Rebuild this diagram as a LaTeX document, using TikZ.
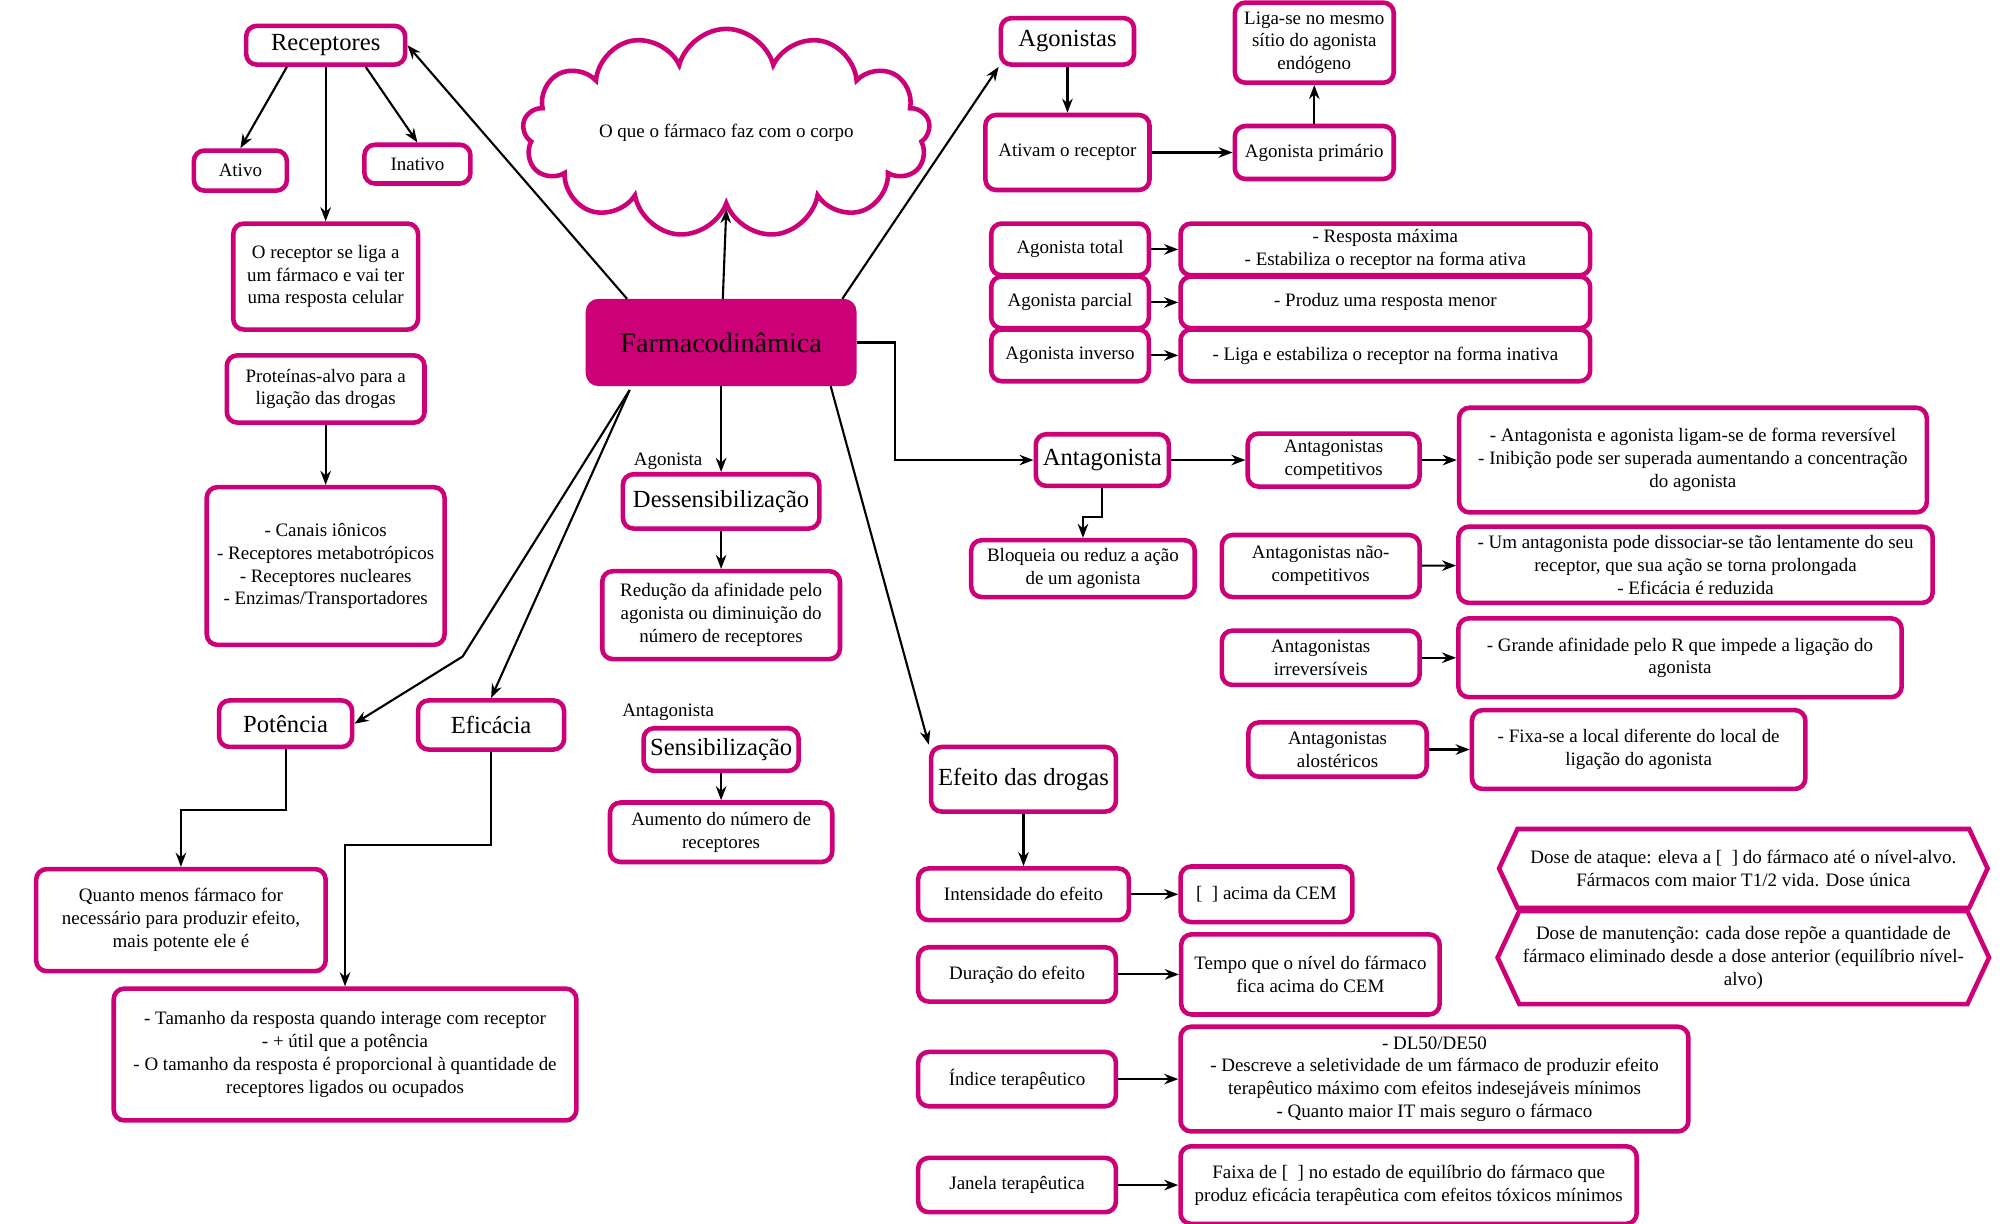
\documentclass[tikz,border=0pt]{standalone}
\usepackage{fontspec}
\setmainfont{Liberation Serif}
\usetikzlibrary{arrows.meta,shapes.symbols}
\definecolor{mag}{HTML}{CC0077}
\def\pu{0.012923cm}
\newcommand{\bx}[7][]{\node[box,#1,minimum width=#5*\pu,minimum height=#6*\pu] (#2) at (#3,#4) {#7};}

\begin{document}
\begin{tikzpicture}[x=\pu,y=-\pu,
font=\fontsize{5.4}{6.5}\selectfont,
box/.style={rectangle,rounded corners=3pt,draw=mag,line width=1.3pt,fill=white,align=center,inner sep=1pt},
big/.style={font=\fontsize{7}{8}\selectfont},
hexa/.style={signal,signal to=east and west,signal pointer angle=130,draw=mag,line width=1.3pt,fill=white,align=center,inner sep=1pt},
arrow/.style={-{Stealth[length=4pt,width=3pt]},semithick}
]
\useasboundingbox (0,0) rectangle (1560,947);

% centre
\bx[fill=mag,font=\fontsize{8}{9}\selectfont]{farm}{558}{265}{206}{64}{Farmacodinâmica}
\node[cloud,cloud puffs=13,aspect=2.8,draw=mag,line width=1.3pt,minimum width=290*\pu,minimum height=104*\pu] (cloud) at (562,103) {O que o fármaco faz com o corpo};

% receptores
\bx[big]{rec}{252}{35}{123}{30}{Receptores}
\bx{ativo}{186}{132}{72}{31}{Ativo}
\bx{inativo}{323}{127}{82}{30}{Inativo}
\bx{liga}{252}{214}{143}{82}{O receptor se liga a\\um fármaco e vai ter\\uma resposta celular}
\bx{prot}{252}{301}{153}{52}{Proteínas-alvo para a\\ligação das drogas}
\bx{canais}{252}{438}{184}{122}{- Canais iônicos\\- Receptores metabotrópicos\\- Receptores nucleares\\- Enzimas/Transportadores}

% potencia e eficacia
\bx[big]{pot}{221}{560}{103}{36}{Potência}
\bx[big]{efic}{380}{561}{113}{38}{Eficácia}
\bx{quanto}{140}{712}{224}{79}{Quanto menos fármaco for\\necessário para produzir efeito,\\mais potente ele é}
\bx{tam}{267}{816}{358}{102}{- Tamanho da resposta quando interage com receptor\\- + útil que a potência\\- O tamanho da resposta é proporcional à quantidade de\\receptores ligados ou ocupados}

% dessensibilizacao
\node (aglab) at (517,357) {Agonista};
\bx[big]{dess}{558}{388}{152}{42}{Dessensibilização}
\bx{red}{558}{476}{184}{68}{Redução da afinidade pelo\\agonista ou diminuição do\\número de receptores}
\node (antlab) at (517,551) {Antagonista};
\bx[big]{sens}{558}{580}{120}{33}{Sensibilização}
\bx{aum}{558}{644}{172}{46}{Aumento do número de\\receptores}

% agonistas
\bx[big]{agon}{826}{32}{103}{36}{Agonistas}
\bx{ativam}{826}{118}{127}{58}{Ativam o receptor}
\bx{prim}{1017}{118}{123}{41}{Agonista primário}
\bx{mesmo}{1017}{33}{123}{62}{Liga-se no mesmo\\sítio do agonista\\endógeno}
\bx{total}{828}{193}{122}{40}{Agonista total}
\bx{parc}{828}{234}{122}{40}{Agonista parcial}
\bx{inv}{828}{275}{122}{40}{Agonista inverso}
\bx{max}{1072}{193}{317}{40}{- Resposta máxima\\- Estabiliza o receptor na forma ativa}
\bx{menor}{1072}{234}{317}{40}{- Produz uma resposta menor}
\bx{inat}{1072}{275}{317}{40}{- Liga e estabiliza o receptor na forma inativa}

% antagonistas
\bx[big]{antag}{853}{356}{103}{40}{Antagonista}
\bx{bloq}{838}{440}{173}{44}{Bloqueia ou reduz a ação\\de um agonista}
\bx{comp}{1032}{356}{133}{41}{Antagonistas\\competitivos}
\bx{compt}{1310}{356}{362}{81}{- Antagonista e agonista ligam-se de forma reversível\\- Inibição pode ser superada aumentando a concentração\\do agonista}
\bx{ncomp}{1022}{438}{153}{48}{Antagonistas não-\\competitivos}
\bx{ncompt}{1312}{437}{367}{59}{- Um antagonista pode dissociar-se tão lentamente do seu\\receptor, que sua ação se torna prolongada\\- Eficácia é reduzida}
\bx{irrev}{1022}{509}{153}{42}{Antagonistas\\irreversíveis}
\bx{irrevt}{1300}{509}{343}{61}{- Grande afinidade pelo R que impede a ligação do\\agonista}
\bx{alos}{1035}{580}{138}{42}{Antagonistas\\alostéricos}
\bx{alost}{1268}{580}{258}{61}{- Fixa-se a local diferente do local de\\ligação do agonista}

% efeito das drogas
\bx[big]{efeito}{792}{603}{143}{50}{Efeito das drogas}
\bx{int}{792}{692}{163}{40}{Intensidade do efeito}
\bx{cem}{980}{692}{133}{43}{[ \ ] acima da CEM}
\bx{dur}{787}{754}{153}{42}{Duração do efeito}
\bx{tempo}{1014}{754}{200}{62}{Tempo que o nível do fármaco\\fica acima do CEM}
\bx{ind}{787}{835}{153}{42}{Índice terapêutico}
\bx{dl}{1110}{835}{393}{81}{- DL50/DE50\\- Descreve a seletividade de um fármaco de produzir efeito\\terapêutico máximo com efeitos indesejáveis mínimos\\- Quanto maior IT mais seguro o fármaco}
\bx{jan}{787}{917}{153}{42}{Janela terapêutica}
\bx{faixa}{1090}{917}{353}{60}{Faixa de [ \ ] no estado de equilíbrio do fármaco que\\produz eficácia terapêutica com efeitos tóxicos mínimos}

% doses
\node[hexa,minimum width=378*\pu,minimum height=61*\pu] (ataque) at (1349,672) {Dose de ataque: eleva a [ \ ] do fármaco até o nível-alvo.\\Fármacos com maior T1/2 vida. Dose única};
\node[hexa,minimum width=378*\pu,minimum height=72*\pu] (manut) at (1349,741) {Dose de manutenção: cada dose repõe a quantidade de\\fármaco eliminado desde a dose anterior (equilíbrio nível-\\alvo)};

% ligacoes
\draw[arrow] (farm.north west) ++(32,0) -- (rec.east);
\draw[arrow] (rec.south) ++(-30,0) -- (ativo.north);
\draw[arrow] (rec.south) ++(31,0) -- (inativo.north);
\draw[arrow] (rec) -- (liga);
\draw[arrow] (prot) -- (canais);
\draw[arrow] (farm) -- (cloud.south);
\draw[arrow] (farm.north east) ++(-11,0) -- (agon.south west);
\draw[arrow] (agon) -- (ativam);
\draw[arrow] (ativam) -- (prim);
\draw[arrow] (prim) -- (mesmo);
\draw[arrow] (total) -- (max);
\draw[arrow] (parc) -- (menor);
\draw[arrow] (inv) -- (inat);
\draw[arrow] (farm.east) -- ++(30,0) |- (antag.west);
\draw[arrow] (antag.south) -- ++(0,22) -| (bloq.north);
\draw[arrow] (antag) -- (comp);
\draw[arrow] (comp) -- (compt);
\draw[arrow] (ncomp) -- (ncompt);
\draw[arrow] (irrev) -- (irrevt);
\draw[arrow] (alos) -- (alost);
\draw[arrow] (farm) -- (dess);
\draw[arrow] (dess) -- (red);
\draw[arrow] (sens) -- (aum);
\draw[arrow] (farm.south east) ++(-20,0) -- (efeito.north west);
\draw[arrow] (efeito) -- (int);
\draw[arrow] (int) -- (cem);
\draw[arrow] (dur) -- (tempo);
\draw[arrow] (ind) -- (dl);
\draw[arrow] (jan) -- (faixa);
\draw[arrow] (farm.south west) ++(34,3) -- (efic.north);
\draw[arrow] (farm.south west) ++(34,3) -- (358,508) -- (pot.east);
\draw[arrow] (pot.south) -- ++(0,47) -| (quanto.north);
\draw[arrow] (efic.south) -- ++(0,72) -| (tam.north);
\end{tikzpicture}
\end{document}
